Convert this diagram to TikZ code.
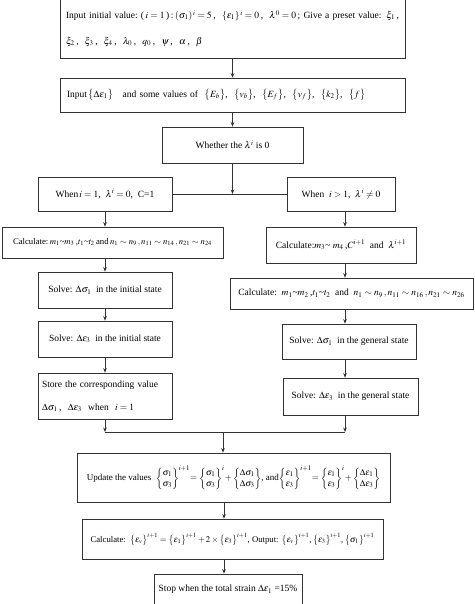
\documentclass[tikz,border=0pt]{standalone}
\usepackage{amsmath}
\usepackage{mathptmx}
\usepackage{fontspec}
\setmainfont{Liberation Serif}
\usetikzlibrary{arrows.meta,calc}
\begin{document}
\begin{tikzpicture}[x=1pt,y=-1pt,
  box/.style={draw=black!80, line width=0.7pt, inner sep=2pt, align=center, font=\fontsize{9.5}{11}\selectfont},
  small/.style={font=\fontsize{9}{11}\selectfont},
  tiny/.style={font=\fontsize{8.7}{10}\selectfont},
  arr/.style={draw=black!80, line width=0.7pt, -{Stealth[length=4.5pt,width=3.6pt]}},
  ln/.style={draw=black!80, line width=0.7pt}]
\useasboundingbox (0,0) rectangle (474,604);
\node[box, minimum width=345pt, minimum height=59pt, text width=333pt, align=left] (b1) at (232.5,28.5)
 {Input initial value:\ (\,$i=1$\,)\,:\,$(\sigma_1)^{\,i}=5$\,,\ \ $\{\varepsilon_1\}^{\,i}=0$\,,\ \ $\lambda^0=0$\,; Give a preset value: $\xi_1$\,,\\[15pt]
 $\xi_2$\,,\ \ $\xi_3$\,,\ \ $\xi_4$\,,\ \ $\lambda_0$\,,\ \ $q_0$\,,\ \ $\psi$\,,\ \ $\alpha$\,,\ \ $\beta$};
\node[box, minimum width=345pt, minimum height=34pt, text width=331pt, align=left] (b2) at (232.5,95)
 {Input$\,\bigl\{\Delta\varepsilon_1\bigr\}$\ \ \ and some values of\ \ $\bigl\{E_b\bigr\}$,\ \ $\bigl\{v_b\bigr\}$,\ \ $\bigl\{E_f\bigr\}$,\ \ $\bigl\{v_f\bigr\}$,\ \ $\bigl\{k_2\bigr\}$,\ \ $\bigl\{f\bigr\}$};
\node[box, minimum width=141pt, minimum height=36pt] (b3) at (232.5,145) {Whether the $\lambda^i$ is 0};
\node[box, minimum width=134pt, minimum height=34pt] (b4L) at (105,194) {When$\,i=1$,\ \ $\lambda^i=0$,\ \ C=1};
\node[box, minimum width=108pt, minimum height=34pt] (b4R) at (341,194) {When\ \ $i>1$,\ \ $\lambda^i\neq0$};
\node[box, tiny, minimum width=221pt, minimum height=31pt] (b5L) at (112.5,242.5)
 {Calculate:\,$m_1$\textasciitilde$m_3$\,,$t_1$\textasciitilde$t_2$\,and\,$n_1\sim n_9\,,n_{11}\sim n_{14}\,,n_{21}\sim n_{24}$};
\node[box, minimum width=150pt, minimum height=36pt] (b5R) at (341,245)
 {Calculate:$m_3$\textasciitilde\ $m_4$\,,$C^{i+1}$\ \ and\ \ $\lambda^{i+1}$};
\node[box, minimum width=134pt, minimum height=36pt] (b6L) at (105,290) {Solve: $\Delta\sigma_1$\ \ in the initial state};
\node[box, minimum width=243pt, minimum height=31pt] (b6R) at (351.5,293.5)
 {Calculate:\ \ $m_1$\textasciitilde$m_2$\,,$t_1$\textasciitilde$t_2$\ \ and\ \ $n_1\sim n_9\,,n_{11}\sim n_{16}\,,n_{21}\sim n_{26}$};
\node[box, minimum width=134pt, minimum height=36pt] (b7L) at (105,339) {Solve: $\Delta\varepsilon_3$\ \ in the initial state};
\node[box, minimum width=134pt, minimum height=35pt] (b7R) at (349,341.5) {Solve: $\Delta\sigma_1$\ \ in the general state};
\node[box, minimum width=134pt, minimum height=46pt, text width=126pt, align=left] (b8L) at (105,396)
 {Store the corresponding value\\[12pt] $\Delta\sigma_1$\,,\ \ $\Delta\varepsilon_3$\ \ when\ \ $i=1$};
\node[box, minimum width=135pt, minimum height=37pt] (b8R) at (350.5,396.5) {Solve: $\Delta\varepsilon_3$\ \ in the general state};
\node[box, small, minimum width=313pt, minimum height=49pt] (b9) at (233.5,477.5)
 {Update the values\ \ $\begin{Bmatrix}\sigma_1\\ \sigma_3\end{Bmatrix}^{i+1}\!\!=\begin{Bmatrix}\sigma_1\\ \sigma_3\end{Bmatrix}^{i}\!+\begin{Bmatrix}\Delta\sigma_1\\ \Delta\sigma_3\end{Bmatrix}$, and$\begin{Bmatrix}\varepsilon_1\\ \varepsilon_3\end{Bmatrix}^{i+1}\!\!=\begin{Bmatrix}\varepsilon_1\\ \varepsilon_3\end{Bmatrix}^{i}\!+\begin{Bmatrix}\Delta\varepsilon_1\\ \Delta\varepsilon_3\end{Bmatrix}$};
\node[box, tiny, minimum width=301pt, minimum height=40pt] (b10) at (232.5,539)
 {Calculate:\ \ $\bigl\{\varepsilon_v\bigr\}^{i+1}=\bigl\{\varepsilon_1\bigr\}^{i+1}+2\times\bigl\{\varepsilon_3\bigr\}^{i+1}$, Output: $\bigl\{\varepsilon_v\bigr\}^{i+1}$,\,$\bigl\{\varepsilon_3\bigr\}^{i+1}$,\,$\bigl\{\sigma_1\bigr\}^{i+1}$};
\node[box, minimum width=148pt, minimum height=31pt] (b11) at (228,589.5) {Stop when the total strain $\Delta\varepsilon_1$\ =15\%};
\coordinate (colR) at (345,0);
\coordinate (colC) at (224,0);
\coordinate (j) at (232.5,194);
\coordinate (mL) at (105,432);
\coordinate (mR) at (345,432);
\coordinate (mC) at (223,432);
\draw[arr] (b1) -- (b2);
\draw[arr] (b2) -- (b3);
\draw[arr] (b3) -- (j);
\draw[ln] (b4L) -- (b4R);
\draw[arr] (b4L.south) -- (b4L.south |- b5L.north);
\draw[arr] (b4R.south -| colR) -- (colR |- b5R.north);
\draw[arr] (b5L.south -| b4L.south) -- (b4L.south |- b6L.north);
\draw[arr] (b5R.south -| colR) -- (colR |- b6R.north);
\draw[arr] (b6L) -- (b7L);
\draw[arr] (b6R.south -| colR) -- (colR |- b7R.north);
\draw[arr] (b7L) -- (b8L);
\draw[arr] (b7R.south -| colR) -- (colR |- b8R.north);
\draw[arr] (b8L) -- (mL);
\draw[arr] (b8R.south -| colR) -- (mR);
\draw[ln] (mL) -- (mR);
\draw[arr] (mC) -- (mC |- b9.north);
\draw[arr] (b9.south -| colC) -- (colC |- b10.north);
\draw[arr] (b10.south -| colC) -- (colC |- b11.north);
\end{tikzpicture}
\end{document}
